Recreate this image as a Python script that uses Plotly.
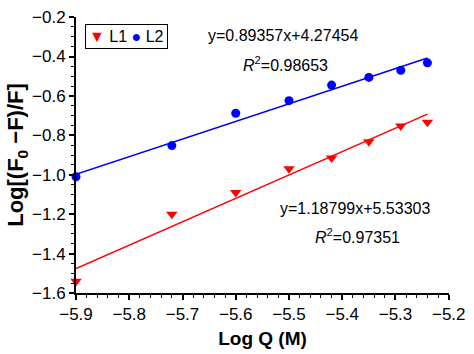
import plotly.graph_objects as go

log_q = [-5.90, -5.72, -5.60, -5.50, -5.42, -5.35, -5.29, -5.24]
l1_vals = [-1.54, -1.20, -1.09, -0.97, -0.915, -0.832, -0.753, -0.734]
l2_vals = [-1.01, -0.852, -0.688, -0.624, -0.545, -0.506, -0.470, -0.432]
fit_l1 = (1.18799, 5.53303)
fit_l2 = (0.89357, 4.27454)
fit_x = [log_q[0], log_q[-1]]
series_names = ["L1", "L2"]
series_colors = ["#ff0000", "#0000ff"]

def fit_y(c):
    return [c[0] * x + c[1] for x in fit_x]

fig = go.Figure()
fig.add_trace(go.Scatter(x=fit_x, y=fit_y(fit_l1), mode="lines",
                         line=dict(color=series_colors[0], width=1.5), showlegend=False))
fig.add_trace(go.Scatter(x=fit_x, y=fit_y(fit_l2), mode="lines",
                         line=dict(color=series_colors[1], width=1.5), showlegend=False))
fig.add_trace(go.Scatter(x=log_q, y=l1_vals, mode="markers", name=series_names[0],
                         marker=dict(symbol="triangle-down", size=10, color=series_colors[0]),
                         cliponaxis=False, showlegend=False))
fig.add_trace(go.Scatter(x=log_q, y=l2_vals, mode="markers", name=series_names[1],
                         marker=dict(symbol="circle", size=9, color=series_colors[1]),
                         cliponaxis=False, showlegend=False))

font = "Arial, Liberation Sans, sans-serif"
axis_common = dict(
    showline=True, linecolor="black", linewidth=2, mirror=False,
    ticks="outside", ticklen=5, tickwidth=1.5, tickcolor="black",
    showgrid=False, zeroline=False, ticklabeloverflow="allow",
    tickfont=dict(family=font, size=17, color="black"),
    minor=dict(ticks="outside", ticklen=3, tickwidth=1.2, tickcolor="black", showgrid=False),
)
fig.update_xaxes(range=[-5.9, -5.1995], dtick=0.1, tick0=-5.9, tickformat=".1f",
                 title=dict(text="<b>Log Q (M)</b>", font=dict(family=font, size=19, color="black"), standoff=8),
                 **axis_common)
fig.update_yaxes(range=[-1.6, -0.1995], dtick=0.2, tick0=-1.6, tickformat=".1f",
                 title=dict(text="<b>Log[(F<sub>0</sub> \u2212F)/F]</b>", font=dict(family=font, size=22, color="black"), standoff=2),
                 **axis_common)

L, R, T, B = 76, 16, 8, 61
W, H = 474, 354
pw, ph = W - L - R, H - T - B

ann_font = dict(family=font, size=16, color="black")
annots = [
    (288, 27, "y=0.89357x+4.27454"),
    (291, 57, "<i>R</i><sup>2</sup>=0.98653"),
    (362, 206, "y=1.18799x+5.53303"),
    (364, 234, "<i>R</i><sup>2</sup>=0.97351"),
]
for px, py, txt in annots:
    fig.add_annotation(x=(px - L) / pw, y=1 - (py - T) / ph, xref="paper", yref="paper",
                       text=txt, showarrow=False, font=ann_font, xanchor="center", yanchor="middle")

legend_text = (f'<span style="color:{series_colors[0]}">\u25bc</span> {series_names[0]} '
               f'<span style="color:{series_colors[1]}">\u25cf</span> {series_names[1]}')
fig.add_annotation(x=(85 - L) / pw, y=1 - (15 - T) / ph, xref="paper", yref="paper",
                   xanchor="left", yanchor="top", text=legend_text, showarrow=False,
                   font=dict(family=font, size=16, color="black"),
                   bordercolor="black", borderwidth=1, borderpad=3, bgcolor="white")

fig.update_layout(
    width=W, height=H,
    margin=dict(l=L, r=R, t=T, b=B),
    plot_bgcolor="white", paper_bgcolor="white",
    showlegend=False,
)
fig.write_html("out.html")
